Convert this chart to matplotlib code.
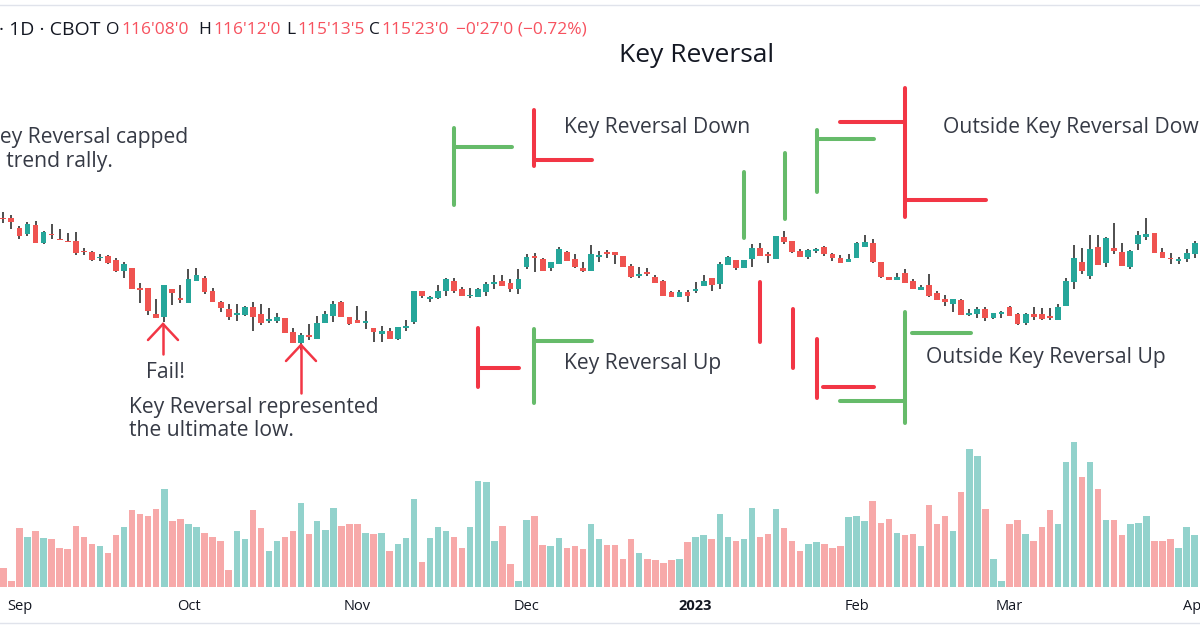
import matplotlib
matplotlib.use("Agg")
import numpy as np
import matplotlib.pyplot as plt

plt.rcParams['font.family'] = ['Open Sans', 'DejaVu Sans']

# daily OHLC (10-year note futures)
opens = [118.17, 118.17, 117.23, 116.57, 117.47, 115.67, 116.63, 116.07, 115.93, 115.93,
         114.93, 114.83, 114.17, 114.40, 114.00, 112.93, 113.17, 111.17, 111.17, 108.57,
         108.33, 111.07, 110.23, 109.73, 111.93, 112.23, 110.93, 109.83, 109.10, 108.53,
         108.50, 109.27, 108.60, 107.90, 107.93, 108.17, 106.77, 105.67, 106.47, 106.10,
         107.67, 108.43, 109.83, 108.27, 108.00, 107.73, 107.17, 106.57, 106.90, 106.10,
         107.23, 107.80, 110.93, 110.10, 110.17, 110.93, 111.90, 111.07, 110.40, 110.27,
         110.83, 111.60, 111.90, 111.67, 111.10, 113.33, 114.40, 114.10, 113.23, 113.57,
         114.77, 114.10, 113.17, 112.93, 114.33, 114.83, 114.83, 114.40, 113.43, 112.43,
         112.77, 112.33, 111.90, 110.83, 110.27, 110.83, 110.90, 111.40, 112.17, 111.57,
         113.50, 114.00, 113.17, 114.07, 115.23, 114.60, 114.07, 116.27, 115.93, 114.93,
         114.33, 114.93, 115.27, 114.57, 114.23, 113.77, 114.23, 115.33, 115.67, 113.83,
         112.27, 112.00, 112.73, 111.93, 111.00, 111.50, 110.67, 110.10, 109.60, 110.00,
         108.50, 108.60, 109.10, 108.17, 108.63, 109.27, 108.57, 107.70, 108.57, 108.57,
         108.43, 108.00, 109.43, 111.83, 113.83, 112.40, 115.33, 113.67, 115.23, 114.83,
         113.33, 115.57, 116.33, 116.73, 114.83, 114.17, 113.90, 114.07, 114.60]
highs = [118.83, 118.50, 117.40, 117.83, 117.90, 116.93, 117.60, 117.07, 116.73, 116.77,
         115.23, 114.93, 114.57, 114.50, 114.17, 113.77, 113.23, 111.67, 111.17, 110.10,
         111.50, 111.07, 111.50, 113.07, 113.17, 112.45, 111.20, 109.90, 109.57, 109.57,
         109.43, 109.83, 109.57, 109.17, 108.73, 108.23, 107.17, 106.73, 107.60, 108.43,
         108.90, 109.93, 109.93, 108.27, 109.43, 108.90, 107.23, 107.43, 107.17, 107.33,
         108.00, 110.93, 110.93, 110.40, 111.50, 112.23, 112.17, 111.33, 111.23, 111.17,
         111.83, 112.50, 112.50, 112.07, 113.07, 114.57, 114.67, 114.23, 113.83, 115.27,
         114.93, 114.57, 113.83, 115.50, 114.93, 115.00, 114.83, 114.40, 113.57, 113.27,
         113.17, 112.50, 112.00, 110.90, 111.00, 111.00, 111.83, 112.50, 112.17, 113.83,
         114.43, 114.00, 114.00, 115.57, 115.67, 114.83, 116.40, 116.93, 115.93, 115.07,
         115.07, 115.23, 115.43, 114.73, 114.50, 114.57, 115.77, 116.50, 116.07, 113.83,
         112.27, 112.73, 113.07, 112.07, 111.50, 112.60, 110.90, 110.50, 110.10, 110.10,
         109.10, 109.27, 109.33, 108.67, 108.95, 109.42, 108.70, 108.70, 109.27, 109.17,
         109.17, 109.57, 112.17, 115.50, 115.23, 116.50, 116.50, 116.33, 117.73, 115.67,
         115.00, 116.93, 118.17, 116.73, 115.23, 114.67, 114.33, 115.10, 115.93]
lows = [117.67, 117.07, 116.07, 116.40, 115.67, 115.57, 116.10, 115.97, 115.77, 114.50,
        114.50, 113.90, 113.90, 113.60, 112.77, 112.23, 111.10, 109.73, 108.50, 108.17,
        107.83, 109.50, 109.67, 109.73, 111.93, 110.57, 109.83, 108.77, 108.00, 107.90,
        108.43, 106.93, 107.50, 107.73, 107.67, 106.73, 105.67, 105.00, 106.00, 106.10,
        107.67, 107.83, 108.27, 107.50, 107.67, 107.07, 105.83, 105.83, 106.10, 106.00,
        106.90, 107.60, 110.17, 109.83, 110.10, 110.43, 110.73, 110.40, 110.23, 110.27,
        110.43, 111.10, 111.40, 110.83, 110.57, 113.07, 112.77, 112.93, 112.93, 113.57,
        113.93, 113.17, 112.77, 112.93, 113.77, 114.17, 113.60, 113.33, 112.23, 112.23,
        112.43, 111.67, 110.40, 110.27, 110.27, 109.83, 110.67, 111.40, 110.93, 111.10,
        113.50, 113.00, 113.17, 113.33, 114.43, 113.73, 114.07, 115.60, 114.73, 114.33,
        114.07, 114.73, 114.43, 113.90, 113.67, 113.77, 114.23, 115.33, 113.73, 112.23,
        112.00, 112.00, 111.73, 111.10, 111.00, 110.27, 110.00, 109.43, 108.83, 108.50,
        108.43, 108.23, 107.93, 108.07, 108.25, 108.37, 107.50, 107.50, 108.00, 108.00,
        108.00, 108.00, 109.43, 111.10, 112.60, 112.10, 113.50, 113.33, 114.60, 113.40,
        113.07, 115.00, 116.00, 114.73, 114.17, 113.60, 113.60, 113.77, 114.17]
closes = [118.07, 117.83, 116.40, 117.60, 115.67, 116.80, 116.47, 115.97, 115.77, 114.73,
          114.77, 114.00, 114.33, 113.73, 112.93, 113.57, 111.10, 111.00, 108.90, 108.17,
          111.50, 110.73, 110.00, 112.07, 112.47, 110.80, 109.83, 109.17, 108.33, 108.73,
          109.27, 108.33, 107.67, 108.07, 108.27, 106.73, 105.67, 106.50, 106.27, 107.73,
          108.60, 109.57, 108.33, 107.60, 107.67, 107.90, 106.83, 106.93, 106.10, 107.33,
          107.33, 110.93, 110.43, 110.27, 110.93, 112.07, 110.93, 110.40, 110.50, 111.07,
          111.60, 111.77, 111.40, 111.10, 112.07, 114.27, 114.17, 112.93, 113.83, 115.10,
          113.93, 113.33, 112.93, 114.57, 114.43, 114.60, 114.47, 113.33, 112.33, 112.60,
          112.57, 111.67, 110.40, 110.27, 110.77, 110.40, 111.07, 111.93, 111.50, 113.60,
          114.27, 113.17, 114.00, 115.23, 114.43, 114.40, 116.40, 115.83, 114.83, 114.33,
          115.00, 115.07, 114.60, 114.23, 113.67, 114.10, 115.67, 115.77, 113.83, 112.33,
          112.00, 112.27, 111.73, 111.10, 111.33, 110.43, 110.00, 109.77, 110.10, 108.50,
          108.67, 109.10, 108.17, 108.67, 108.73, 108.37, 107.60, 108.60, 108.33, 108.10,
          108.23, 109.27, 111.90, 114.23, 112.93, 115.07, 113.50, 116.17, 114.90, 113.40,
          114.93, 116.50, 116.60, 114.73, 114.17, 114.07, 114.10, 114.67, 115.67]
# volume, thousands of contracts
volumes = [275, 85, 875, 750, 835, 730, 710, 585, 565, 915,
           750, 645, 605, 500, 770, 895, 1145, 1085, 1060, 1165,
           1460, 980, 1020, 935, 895, 810, 750, 685, 250, 835,
           710, 1145, 875, 540, 685, 750, 835, 1250, 790, 980,
           855, 1185, 915, 935, 935, 810, 790, 810, 540, 645,
           730, 1315, 375, 730, 895, 835, 750, 585, 895, 1585,
           1565, 685, 915, 335, 80, 1000, 1060, 625, 605, 730,
           585, 605, 565, 935, 710, 625, 625, 415, 710, 500,
           415, 395, 355, 395, 415, 665, 750, 770, 710, 1085,
           750, 685, 710, 1185, 750, 790, 1165, 875, 685, 540,
           645, 665, 645, 585, 605, 1040, 1060, 980, 1290, 960,
           1020, 810, 770, 790, 605, 1230, 935, 1060, 835, 1415,
           2060, 1960, 1165, 415, 80, 935, 1000, 790, 685, 895,
           1145, 935, 1875, 2165, 1645, 1875, 1460, 1000, 1000, 770,
           935, 960, 1060, 685, 685, 710, 585, 895, 770]

month_pos = [2, 23, 44, 65, 86, 106, 125, 148]
month_labels = ['Sep', 'Oct', 'Nov', 'Dec', '2023', 'Feb', 'Mar', 'Apr']

UP, DOWN = '#26a69a', '#ef5350'
VUP, VDOWN = '#92d2cc', '#f7a9a9'
GREEN, RED = '#66bb6a', '#f23645'
TXT = '#363a45'
DARK = '#131722'
LEG = '#f7525f'

o = np.array(opens); h = np.array(highs); l = np.array(lows); c = np.array(closes)
x = np.arange(len(o))
up = c >= o

fig = plt.figure(figsize=(12, 6.3), dpi=100)
ax = fig.add_axes([0, 0.0687, 1, 0.9313])
axv = fig.add_axes([0, 0.0687, 1, 0.254])
ov = fig.add_axes([0, 0, 1, 1])
ax.set_zorder(2); axv.set_zorder(1); ov.set_zorder(3)
for a in (ax, axv, ov):
    a.patch.set_visible(False)
    for s in a.spines.values():
        s.set_visible(False)

# candles
ax.vlines(x, l, h, color='#1e1e1e', lw=1.1, zorder=2)
ax.bar(x, np.maximum(np.abs(c - o), 0.15), bottom=np.minimum(o, c), width=0.72,
       color=np.where(up, UP, DOWN), zorder=3)
ax.set_xlim(-0.41, 148.66)
ax.set_ylim(81.33, 140)
ax.set_xticks([]); ax.set_yticks([])

# volume
axv.bar(x, volumes, width=0.8, color=np.where(up, VUP, VDOWN))
axv.set_xlim(-0.41, 148.66)
axv.set_ylim(0, 2400)
axv.set_yticks([])
axv.set_xticks(month_pos, month_labels)
axv.tick_params(axis='x', length=0, pad=8.5, labelsize=10.5, labelcolor=DARK)
axv.get_xticklabels()[4].set_fontweight('bold')

# overlay in pixel coordinates for the drawings and notes
ov.set_xlim(0, 1200); ov.set_ylim(630, 0); ov.axis('off')
ov.plot([0, 1200], [5, 5], color='#e0e3eb', lw=1)
ov.plot([0, 1200], [623, 623], color='#e0e3eb', lw=1)

# legend line
ov.text(-1, 30, "· 1D · CBOT", color=DARK, fontsize=14, ha='left', va='center')
for letter, val, vx in [("O", "116'08'0", 121), ("H", "116'12'0", 213),
                        ("L", "115'13'5", 297), ("C", "115'23'0", 381)]:
    ov.text(vx - 1.5, 30.5, letter, color=DARK, fontsize=12.5, ha='right', va='center')
    ov.text(vx, 30, val, color=LEG, fontsize=12.5, ha='left', va='center')
ov.text(456, 30, "−0'27'0 (−0.72%)", color=LEG, fontsize=12.5, ha='left', va='center')

ov.text(697, 56, "Key Reversal", fontsize=19, color=DARK, ha='center', va='center')

fs = 15.2
ov.text(188, 138, "Key Reversal capped", fontsize=fs, color=TXT, ha='right', va='center')
ov.text(113, 161, "a trend rally.", fontsize=fs, color=TXT, ha='right', va='center')
ov.text(166, 372, "Fail!", fontsize=fs, color=TXT, ha='center', va='center')
ov.text(129, 407, "Key Reversal represented", fontsize=fs, color=TXT, ha='left', va='center')
ov.text(129, 430, "the ultimate low.", fontsize=fs, color=TXT, ha='left', va='center')
ov.text(564, 127, "Key Reversal Down", fontsize=fs, color=TXT, ha='left', va='center')
ov.text(564, 363, "Key Reversal Up", fontsize=fs, color=TXT, ha='left', va='center')
ov.text(943, 127, "Outside Key Reversal Down", fontsize=fs, color=TXT, ha='left', va='center')
ov.text(926, 358, "Outside Key Reversal Up", fontsize=fs, color=TXT, ha='left', va='center')

# arrows
for ax_x, tip, tail in [(163, 324, 354), (301, 345, 393)]:
    ov.plot([ax_x, ax_x], [tip, tail], color=RED, lw=1.8, solid_capstyle='round')
    ov.plot([ax_x - 15, ax_x, ax_x + 15], [tip + 16, tip, tip + 16], color=RED, lw=1.8,
            solid_capstyle='round', solid_joinstyle='miter')

# bar sketches
segs = [
    (GREEN, [453.6, 453.6], [128, 205]), (GREEN, [453.6, 511.8], [146.7, 146.7]),
    (RED, [534.4, 534.4], [110, 166]), (RED, [534.4, 592], [160, 160]),
    (RED, [478.4, 478.4], [328, 386.7]), (RED, [478.4, 519], [368.3, 368.3]),
    (GREEN, [534.4, 534.4], [329, 403]), (GREEN, [534.4, 592], [340.7, 340.7]),
    (GREEN, [743.8, 743.8], [171.7, 238.3]), (GREEN, [784.5, 784.5], [152.7, 219.3]),
    (GREEN, [816.5, 816.5], [130, 191.7]), (GREEN, [816.5, 873.6], [139, 139]),
    (RED, [905.3, 905.3], [88.3, 216.7]), (RED, [839.8, 905.3], [122.3, 122.3]),
    (RED, [905.3, 986.4], [200, 200]),
    (RED, [759.8, 759.8], [281.7, 341.7]), (RED, [792.9, 792.9], [309.3, 368.3]),
    (RED, [816.5, 816.5], [339.3, 398.3]), (RED, [822.7, 873.6], [387.3, 387.3]),
    (GREEN, [905.3, 905.3], [311.7, 423.3]), (GREEN, [911.8, 970.7], [333.3, 333.3]),
    (GREEN, [839.8, 905.3], [401, 401]),
]
for col, xs, ys in segs:
    ov.plot(xs, ys, color=col, lw=2.9, solid_capstyle='round')

fig.savefig("out.png", dpi=100)
